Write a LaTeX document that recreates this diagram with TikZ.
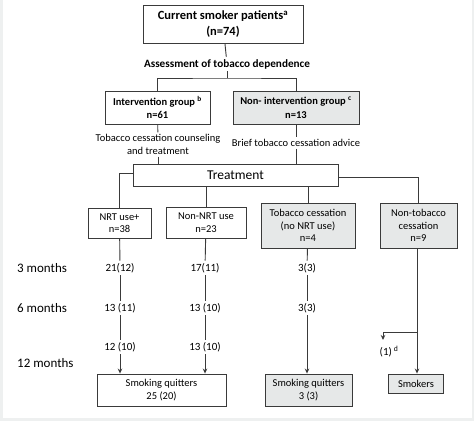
\documentclass[tikz,border=0pt]{standalone}
\usepackage{fontspec}
\setmainfont{Carlito}
\usepackage{tikz}
\usetikzlibrary{arrows.meta,positioning}
\definecolor{linex}{HTML}{3A3A3A}
\definecolor{shadex}{HTML}{E6E8E8}
\definecolor{framex}{HTML}{EEF0F0}
\tikzset{
  ln/.style={draw=linex,line width=0.9pt},
  ar/.style={ln,-{Stealth[length=5pt,width=4.5pt]}},
  box/.style={draw=linex,line width=0.9pt,fill=white,align=center,inner sep=1pt,font=\fontsize{10.5}{12.5}\selectfont},
  gbox/.style={box,fill=shadex},
  hbox/.style={box,font=\fontsize{10.5}{13.5}\selectfont\bfseries},
  lbl/.style={align=center,inner sep=2pt,font=\fontsize{10.5}{12.5}\selectfont},
  num/.style={inner sep=2.5pt,font=\fontsize{11}{13}\selectfont},
  mon/.style={anchor=west,inner sep=0pt,font=\fontsize{13}{15}\selectfont}
}
\begin{document}
\begin{tikzpicture}[x=1pt,y=-1pt]
\useasboundingbox (0,0) rectangle (474,421);
\fill[framex] (0,0) rectangle (474,421);
\fill[white] (2.5,0) rectangle (472,417.5);
% top of the chart
\node[box,minimum width=160pt,minimum height=38pt,font=\fontsize{12.5}{16}\selectfont\bfseries] (top) at (223,24) {Current smoker patients\textsuperscript{a}\\(n=74)};
\node[lbl,font=\fontsize{11.2}{13}\selectfont\bfseries] (assess) at (227,64) {Assessment of tobacco dependence};
\coordinate (split) at (227,78);
\node[hbox,minimum width=105pt,minimum height=33pt] (ig) at (157.5,107.5) {Intervention group \textsuperscript{b}\\n=61};
\node[hbox,fill=shadex,minimum width=126pt,minimum height=33pt] (nig) at (296,107.5) {Non- intervention group \textsuperscript{c}\\n=13};
\node[lbl] (tcc) at (158,144.5) {Tobacco cessation counseling\\and treatment};
\node[lbl] (brief) at (296,143) {Brief tobacco cessation advice};
\node[box,minimum width=205pt,minimum height=22pt,font=\fontsize{13.5}{15}\selectfont] (treat) at (235.5,175) {Treatment};
% second level
\node[box,minimum width=63pt,minimum height=30pt] (nrt) at (119.5,223) {NRT use+\\n=38};
\node[box,minimum width=80pt,minimum height=31pt] (nonnrt) at (206,222.5) {Non-NRT use\\n=23};
\node[gbox,minimum width=94pt,minimum height=45pt] (tc) at (308,225.5) {Tobacco cessation\\(no NRT use)\\n=4};
\node[gbox,minimum width=77pt,minimum height=45pt] (ntc) at (418.5,225.5) {Non-tobacco\\cessation\\n=9};
% follow-up
\node[mon] (m3) at (17,268) {3 months};
\node[mon] (m6) at (17,308) {6 months};
\node[mon] (m12) at (17,363) {12 months};
\node[num] (a3) at (120,268) {21(12)};
\node[num] (b3) at (205,268) {17(11)};
\node[num] (c3) at (307,268) {3(3)};
\node[num] (a6) at (120,308) {13 (11)};
\node[num] (b6) at (205,308) {13 (10)};
\node[num] (c6) at (307,308) {3(3)};
\node[num] (a12) at (120,347) {12 (10)};
\node[num] (b12) at (205,347) {13 (10)};
\node[box,minimum width=129pt,minimum height=32pt] (sq1) at (161.5,390) {Smoking quitters\\25 (20)};
\node[gbox,minimum width=87pt,minimum height=32pt] (sq2) at (308.5,390) {Smoking quitters\\3 (3)};
\node[gbox,minimum width=55pt,minimum height=19pt] (smk) at (416,383.5) {Smokers};
\coordinate (br) at (417,332);
\coordinate (onetip) at (383,340);
\node[num,anchor=north] (one) at (389,343) {(1)\,\textsuperscript{d}};
% connectors
\draw[ln] (top) -- (assess);
\draw[ln] (assess.south) -- (split);
\draw[ln] (ig.north) |- (split) -| (nig.north);
\draw[ln] (ig) -- (tcc);
\draw[ln] (tcc.south) -- (tcc.south |- treat.north);
\draw[ln] (nig) -- (brief);
\draw[ln] (brief.south) -- (brief.south |- treat.north);
\draw[ln] ([yshift=2pt]treat.west) -| (nrt.north);
\draw[ln] (treat.south -| nonnrt) -- (nonnrt.north);
\draw[ln] (treat.south -| tc) -- (tc.north);
\draw[ln] ([yshift=-2pt]treat.east) -| (ntc.north);
\draw[ln] (nrt) -- (a3);
\draw[ln] (a3) -- (a6);
\draw[ln] (a6) -- (a12);
\draw[ar] (a12.south) -- (a12.south |- sq1.north);
\draw[ln] (nonnrt) -- (b3);
\draw[ln] (b3) -- (b6);
\draw[ln] (b6) -- (b12);
\draw[ar] (b12.south) -- (b12.south |- sq1.north);
\draw[ln] (tc) -- (c3);
\draw[ln] (c3) -- (c6);
\draw[ar] (c6.south) -- (c6.south |- sq2.north);
\draw[ar] (ntc.south -| br) -- (br |- smk.north);
\draw[ar] (br) -| (onetip);
\end{tikzpicture}
\end{document}
